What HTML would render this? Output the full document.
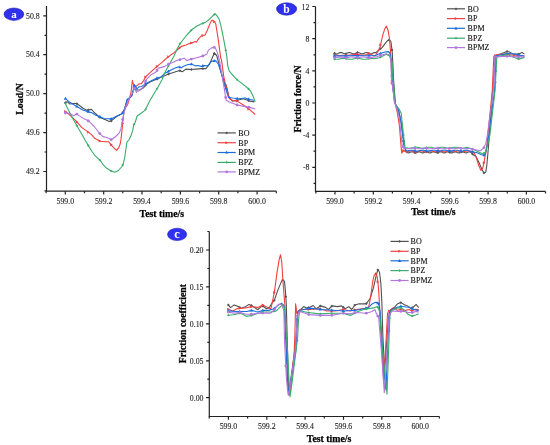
<!DOCTYPE html>
<html><head><meta charset="utf-8"><title>Figure</title><style>html,body{margin:0;padding:0;background:#fff;width:550px;height:445px;overflow:hidden}svg{display:block}</style></head><body>
<svg width="550" height="445" viewBox="0 0 550 445">
<style>text{font-family:'Liberation Serif','Times New Roman',serif;fill:#222} .tl{font-size:7.8px;fill:#1a1a1a;stroke:#1a1a1a;stroke-width:0.1px} .lg{font-size:8px;fill:#111;stroke:#111;stroke-width:0.12px} .at{font-size:9.8px;font-weight:bold;fill:#000;stroke:#000;stroke-width:0.25px} .bd{font-weight:bold;fill:#fff}</style>
<rect width="550" height="445" fill="#fff"/>
<g id="pa">
<path d="M46.5 6.1V191.2H276.3" fill="none" stroke="#222" stroke-width="1.2"/>
<text x="65.3" y="203.9" text-anchor="middle" class="tl">599.0</text>
<text x="103.7" y="203.9" text-anchor="middle" class="tl">599.2</text>
<text x="142" y="203.9" text-anchor="middle" class="tl">599.4</text>
<text x="180.4" y="203.9" text-anchor="middle" class="tl">599.6</text>
<text x="218.7" y="203.9" text-anchor="middle" class="tl">599.8</text>
<text x="257.1" y="203.9" text-anchor="middle" class="tl">600.0</text>
<text x="39.7" y="174.1" text-anchor="end" class="tl">49.2</text>
<text x="39.7" y="135.2" text-anchor="end" class="tl">49.6</text>
<text x="39.7" y="96.3" text-anchor="end" class="tl">50.0</text>
<text x="39.7" y="57.4" text-anchor="end" class="tl">50.4</text>
<text x="39.7" y="18.5" text-anchor="end" class="tl">50.8</text>
<path d="M46.1 191.2v2.0M65.3 191.2v3.2M84.5 191.2v2.0M103.7 191.2v3.2M122.8 191.2v2.0M142 191.2v3.2M161.2 191.2v2.0M180.4 191.2v3.2M199.6 191.2v2.0M218.7 191.2v3.2M237.9 191.2v2.0M257.1 191.2v3.2M276.3 191.2v2.0M46.5 190.9h-2.0M46.5 171.5h-3.2M46.5 152h-2.0M46.5 132.6h-3.2M46.5 113.1h-2.0M46.5 93.7h-3.2M46.5 74.2h-2.0M46.5 54.7h-3.2M46.5 35.3h-2.0M46.5 15.8h-3.2" stroke="#222" stroke-width="1.2" fill="none"/>
<text x="161.8" y="216.8" text-anchor="middle" class="at">Test time/s</text>
<text transform="translate(22.7 98.9) rotate(-90)" text-anchor="middle" class="at">Load/N</text>
<ellipse cx="13.9" cy="14.2" rx="9.9" ry="6.2" fill="#3030f0" stroke="#2222b8" stroke-width="0.6"/>
<text x="13.9" y="17.9" text-anchor="middle" class="bd" font-size="11">a</text>
<path d="M217.5 132.9H235.8" stroke="#515151" stroke-width="1.2"/>
<path d="M226.7 131.5l1.4 1.4l-1.4 1.4l-1.4 -1.4z" fill="#515151"/>
<text x="238.3" y="135.7" class="lg">BO</text>
<path d="M217.5 142.7H235.8" stroke="#F14040" stroke-width="1.2"/>
<path d="M228.2 142.7l-2.8 -1.5v3z" fill="#F14040"/>
<text x="238.3" y="145.5" class="lg">BP</text>
<path d="M217.5 152.5H235.8" stroke="#1A6FDF" stroke-width="1.2"/>
<path d="M226.7 150.7l1.7 2.9h-3.4z" fill="#1A6FDF"/>
<text x="238.3" y="155.3" class="lg">BPM</text>
<path d="M217.5 162.4H235.8" stroke="#37AD6B" stroke-width="1.2"/>
<path d="M226.7 161.1l1.3 1.3l-1.3 1.3l-1.3 -1.3z" fill="#37AD6B"/>
<text x="238.3" y="165.2" class="lg">BPZ</text>
<path d="M217.5 171.9H235.8" stroke="#B177DE" stroke-width="1.2"/>
<circle cx="226.7" cy="171.9" r="1.4" fill="#B177DE"/>
<text x="238.3" y="174.7" class="lg">BPMZ</text>
<path d="M65.4 102.6 67.2 101.7 69.9 104 73.5 103.5 76.6 103.5 79.8 105.8 83.4 108.5 87 110.3 91.5 109.4 94.2 112.5 99.5 117.2 104.9 119.4 109.4 121.6 111.6 120.7 116.6 116.5 121.1 114.2 122.9 112.8 124.7 108.6 127.1 100 130.2 97.5 131.8 95.8 133.4 90 134.5 88 135.7 90.1 139.7 89.7 143.6 87.7 146.2 84.3 150 82 155.3 79.7 162.3 76.7 168.6 74.1 174.1 72.3 179.5 70.5 182.3 71.8 185.9 69.1 191.4 69.5 195.9 69.1 201.4 68.6 205.9 68.6 209.5 64.1 212.3 57.7 214.4 53.1 216.7 55.5 219.1 64.2 221.4 73.6 224.6 83 226.9 87.7 228.5 95.6 230.1 98.7 232.4 101.1 237.2 100.3 243.4 98.7 249.7 101.1 254.5 101.9" fill="none" stroke="#515151" stroke-width="1.1" stroke-linejoin="round"/><path d="M65.4 101.2l1.4 1.4l-1.4 1.4l-1.4 -1.4z" fill="#515151"/><path d="M76.9 102.3l1.4 1.4l-1.4 1.4l-1.4 -1.4z" fill="#515151"/><path d="M88.3 108.6l1.4 1.4l-1.4 1.4l-1.4 -1.4z" fill="#515151"/><path d="M99.8 115.9l1.4 1.4l-1.4 1.4l-1.4 -1.4z" fill="#515151"/><path d="M111.2 119.5l1.4 1.4l-1.4 1.4l-1.4 -1.4z" fill="#515151"/><path d="M122.7 111.6l1.4 1.4l-1.4 1.4l-1.4 -1.4z" fill="#515151"/><path d="M134.1 87.3l1.4 1.4l-1.4 1.4l-1.4 -1.4z" fill="#515151"/><path d="M145.6 83.7l1.4 1.4l-1.4 1.4l-1.4 -1.4z" fill="#515151"/><path d="M157 77.6l1.4 1.4l-1.4 1.4l-1.4 -1.4z" fill="#515151"/><path d="M168.4 72.8l1.4 1.4l-1.4 1.4l-1.4 -1.4z" fill="#515151"/><path d="M179.9 69.3l1.4 1.4l-1.4 1.4l-1.4 -1.4z" fill="#515151"/><path d="M191.3 68.1l1.4 1.4l-1.4 1.4l-1.4 -1.4z" fill="#515151"/><path d="M202.8 67.2l1.4 1.4l-1.4 1.4l-1.4 -1.4z" fill="#515151"/><path d="M214.2 52l1.4 1.4l-1.4 1.4l-1.4 -1.4z" fill="#515151"/><path d="M225.7 83.8l1.4 1.4l-1.4 1.4l-1.4 -1.4z" fill="#515151"/><path d="M237.1 98.9l1.4 1.4l-1.4 1.4l-1.4 -1.4z" fill="#515151"/><path d="M248.6 99.3l1.4 1.4l-1.4 1.4l-1.4 -1.4z" fill="#515151"/>
<path d="M65.4 111.6 69 114.3 76.2 121.1 81.6 127.4 87.9 131.9 91.5 134.6 95 138.6 100.4 141.3 104.9 141.7 108.5 141.7 111.6 145.3 113.9 148 116.6 150.3 118.8 147.6 120.2 144 121.1 138.6 122.5 125 123.8 112.2 125.6 107.5 127.5 105 129.4 98.7 131 92.4 132.4 80.3 133.4 84.6 134.2 87.7 135.3 86.9 136.9 85.8 138.9 83.8 141.2 83.8 143.6 80.6 145.7 76.7 151.2 71.7 157.3 66.1 162.3 62.1 165 59.5 169.5 55.9 174.1 52.7 177.7 49.5 181.4 46.4 185.9 45 189.5 43.6 192.3 42.7 195 41.4 196.4 42.3 198.6 38.6 201.4 35.9 205 35 207.2 30.5 209.5 24.9 211.2 20.9 212.9 20.4 214.6 22 215.7 23.7 216.8 30.5 217.9 37.2 219 45.1 220.7 58 221.4 59.4 223.8 76.7 226.2 87.7 227.7 92.5 229.3 98.7 232.4 100.3 237.2 101.1 243.4 105 249.7 109.7 255.2 114.5" fill="none" stroke="#F14040" stroke-width="1.1" stroke-linejoin="round"/><path d="M67 111.6l-2.8 -1.5v3z" fill="#F14040"/><path d="M78.5 121.9l-2.8 -1.5v3z" fill="#F14040"/><path d="M89.9 132.2l-2.8 -1.5v3z" fill="#F14040"/><path d="M101.4 141l-2.8 -1.5v3z" fill="#F14040"/><path d="M112.8 144.8l-2.8 -1.5v3z" fill="#F14040"/><path d="M124.3 123.5l-2.8 -1.5v3z" fill="#F14040"/><path d="M135.7 87.3l-2.8 -1.5v3z" fill="#F14040"/><path d="M147.2 77l-2.8 -1.5v3z" fill="#F14040"/><path d="M158.6 66.4l-2.8 -1.5v3z" fill="#F14040"/><path d="M170 56.7l-2.8 -1.5v3z" fill="#F14040"/><path d="M181.5 47.7l-2.8 -1.5v3z" fill="#F14040"/><path d="M192.9 43l-2.8 -1.5v3z" fill="#F14040"/><path d="M204.4 35.6l-2.8 -1.5v3z" fill="#F14040"/><path d="M215.8 21.7l-2.8 -1.5v3z" fill="#F14040"/><path d="M227.3 85.4l-2.8 -1.5v3z" fill="#F14040"/><path d="M238.7 101.1l-2.8 -1.5v3z" fill="#F14040"/><path d="M250.2 108.9l-2.8 -1.5v3z" fill="#F14040"/>
<path d="M65.4 98.6 69 101.7 77.1 106.7 83.4 110.3 87.9 111.6 92.4 113 95 114.9 99.9 116.7 104 118.5 111.2 118.9 116.6 116.2 121.1 114 122.9 112.6 124.7 108.6 127.1 99.5 130.2 97.2 131.8 95.6 133.4 89.3 134.5 84.6 135.7 86.5 136.9 88.9 138.9 86.9 141.2 86.5 143.6 85.4 146.2 83.3 150 81.5 155.3 78.7 161.3 76.7 165 73.2 169.1 70.9 174.1 68.6 178.6 66.8 181.4 67.7 184.1 65.9 188.2 64.5 192.3 64.1 195 65.9 197.7 65.5 201.4 66.4 204.1 65.5 207.7 65.9 210.5 62.3 212 61 215.9 60.7 218.3 64.2 221.4 73.6 224.6 84.6 226.9 92.5 228.5 97.2 232.4 98 238.7 98.7 245 98 249.7 99.5 254.5 100.3" fill="none" stroke="#1A6FDF" stroke-width="1.1" stroke-linejoin="round"/><path d="M65.4 96.8l1.7 2.9h-3.4z" fill="#1A6FDF"/><path d="M76.9 104.7l1.7 2.9h-3.4z" fill="#1A6FDF"/><path d="M88.3 109.9l1.7 2.9h-3.4z" fill="#1A6FDF"/><path d="M99.8 114.8l1.7 2.9h-3.4z" fill="#1A6FDF"/><path d="M111.2 117.1l1.7 2.9h-3.4z" fill="#1A6FDF"/><path d="M122.7 111l1.7 2.9h-3.4z" fill="#1A6FDF"/><path d="M134.1 84.5l1.7 2.9h-3.4z" fill="#1A6FDF"/><path d="M145.6 82l1.7 2.9h-3.4z" fill="#1A6FDF"/><path d="M157 76.3l1.7 2.9h-3.4z" fill="#1A6FDF"/><path d="M168.4 69.5l1.7 2.9h-3.4z" fill="#1A6FDF"/><path d="M179.9 65.4l1.7 2.9h-3.4z" fill="#1A6FDF"/><path d="M191.3 62.4l1.7 2.9h-3.4z" fill="#1A6FDF"/><path d="M202.8 64.1l1.7 2.9h-3.4z" fill="#1A6FDF"/><path d="M214.2 59l1.7 2.9h-3.4z" fill="#1A6FDF"/><path d="M225.7 86.6l1.7 2.9h-3.4z" fill="#1A6FDF"/><path d="M237.1 96.7l1.7 2.9h-3.4z" fill="#1A6FDF"/><path d="M248.6 97.3l1.7 2.9h-3.4z" fill="#1A6FDF"/>
<path d="M65.4 103.5 67.2 107.6 70.8 114.8 75.3 122.9 78.9 129.2 81.6 133.7 85 140 88.8 146.4 92 151.5 95 155.7 100.4 160.6 103.1 164.7 106.7 168.3 111.2 171 114.8 172.3 118.4 170.5 122 166.5 123.3 163.8 124.7 157.5 126 148.5 126.9 142.2 129.2 139.5 131 135.6 132.8 130.2 133.7 124.8 135 123 137.1 116 140 114 145 110.4 150.2 100 157.3 88.3 162.3 79.2 165 72.3 169.5 64.1 174.1 55.9 176.8 49.5 180 43.6 183.2 39.5 186.8 35 192 29.5 197 26 201 24 205 22.6 209.5 19.2 212.3 16.4 215.1 13.6 217.4 16.4 219 18.7 220.7 24.9 222.4 32.7 224.1 41.7 225.8 50.7 226.9 57.1 227.7 65.7 229.3 71.2 234 76.7 237.2 79.9 243.4 84.6 248.2 88.5 250.5 90.9 252.9 95.6 255.2 101.9" fill="none" stroke="#37AD6B" stroke-width="1.1" stroke-linejoin="round"/><path d="M65.4 102.2l1.3 1.3l-1.3 1.3l-1.3 -1.3z" fill="#37AD6B"/><path d="M76.9 124.3l1.3 1.3l-1.3 1.3l-1.3 -1.3z" fill="#37AD6B"/><path d="M88.3 144.3l1.3 1.3l-1.3 1.3l-1.3 -1.3z" fill="#37AD6B"/><path d="M99.8 158.7l1.3 1.3l-1.3 1.3l-1.3 -1.3z" fill="#37AD6B"/><path d="M111.2 169.7l1.3 1.3l-1.3 1.3l-1.3 -1.3z" fill="#37AD6B"/><path d="M122.7 163.8l1.3 1.3l-1.3 1.3l-1.3 -1.3z" fill="#37AD6B"/><path d="M134.1 122.9l1.3 1.3l-1.3 1.3l-1.3 -1.3z" fill="#37AD6B"/><path d="M145.6 108l1.3 1.3l-1.3 1.3l-1.3 -1.3z" fill="#37AD6B"/><path d="M157 87.5l1.3 1.3l-1.3 1.3l-1.3 -1.3z" fill="#37AD6B"/><path d="M168.4 64.7l1.3 1.3l-1.3 1.3l-1.3 -1.3z" fill="#37AD6B"/><path d="M179.9 42.5l1.3 1.3l-1.3 1.3l-1.3 -1.3z" fill="#37AD6B"/><path d="M191.3 28.9l1.3 1.3l-1.3 1.3l-1.3 -1.3z" fill="#37AD6B"/><path d="M202.8 22.1l1.3 1.3l-1.3 1.3l-1.3 -1.3z" fill="#37AD6B"/><path d="M214.2 13.2l1.3 1.3l-1.3 1.3l-1.3 -1.3z" fill="#37AD6B"/><path d="M225.7 48.9l1.3 1.3l-1.3 1.3l-1.3 -1.3z" fill="#37AD6B"/><path d="M237.1 78.5l1.3 1.3l-1.3 1.3l-1.3 -1.3z" fill="#37AD6B"/><path d="M248.6 87.6l1.3 1.3l-1.3 1.3l-1.3 -1.3z" fill="#37AD6B"/>
<path d="M65.4 113 69.9 113.4 73.5 115.7 76.6 113.9 79.8 116.1 83.4 118.4 87.9 120.6 90.6 122.9 94.2 126.5 95 127.5 99.9 133.8 102.2 135.9 104 136.9 105.8 137.2 107.6 137.8 111.2 139.7 115.7 136.5 119.3 132.9 121.1 128.4 122.4 120.7 123.8 114 125.1 108.6 126.5 105 128.5 100 131 95 133 92.4 134.2 87.7 135.3 90.1 136.5 92.4 138.9 90.9 141.2 89.3 143.6 86.2 145 82.2 146.2 79.7 151.2 74.7 156.3 71.7 158.3 68.1 162.3 67.1 165 66.4 168.6 64.1 173.2 62.3 176.8 60.5 180.5 59.5 184.1 58.2 186.8 60.5 191.4 59.1 196.8 57.7 203.2 55.9 206.8 54.1 208.4 50.1 211.7 47.9 214.6 47.3 216.2 49.6 217.9 54.1 219.9 62.6 223 81.4 225.4 95.6 226.2 100.3 229.3 101.9 237.2 105 245 106.6 249.7 107.4 255.2 109" fill="none" stroke="#B177DE" stroke-width="1.1" stroke-linejoin="round"/><circle cx="65.4" cy="113" r="1.4" fill="#B177DE"/><circle cx="76.9" cy="114.1" r="1.4" fill="#B177DE"/><circle cx="88.3" cy="120.9" r="1.4" fill="#B177DE"/><circle cx="99.8" cy="133.6" r="1.4" fill="#B177DE"/><circle cx="111.2" cy="139.7" r="1.4" fill="#B177DE"/><circle cx="122.7" cy="119.5" r="1.4" fill="#B177DE"/><circle cx="134.1" cy="88.1" r="1.4" fill="#B177DE"/><circle cx="145.6" cy="81.1" r="1.4" fill="#B177DE"/><circle cx="157" cy="70.4" r="1.4" fill="#B177DE"/><circle cx="168.4" cy="64.2" r="1.4" fill="#B177DE"/><circle cx="179.9" cy="59.7" r="1.4" fill="#B177DE"/><circle cx="191.3" cy="59.1" r="1.4" fill="#B177DE"/><circle cx="202.8" cy="56" r="1.4" fill="#B177DE"/><circle cx="214.2" cy="47.4" r="1.4" fill="#B177DE"/><circle cx="225.7" cy="97.4" r="1.4" fill="#B177DE"/><circle cx="237.1" cy="105" r="1.4" fill="#B177DE"/><circle cx="248.6" cy="107.2" r="1.4" fill="#B177DE"/>
</g>
<g id="pb">
<path d="M315.5 6.5V191.4H545.5" fill="none" stroke="#222" stroke-width="1.2"/>
<text x="335" y="203.9" text-anchor="middle" class="tl">599.0</text>
<text x="373.3" y="203.9" text-anchor="middle" class="tl">599.2</text>
<text x="411.6" y="203.9" text-anchor="middle" class="tl">599.4</text>
<text x="449.8" y="203.9" text-anchor="middle" class="tl">599.6</text>
<text x="488.1" y="203.9" text-anchor="middle" class="tl">599.8</text>
<text x="526.4" y="203.9" text-anchor="middle" class="tl">600.0</text>
<text x="309.4" y="170.4" text-anchor="end" class="tl">-8</text>
<text x="309.4" y="138.3" text-anchor="end" class="tl">-4</text>
<text x="309.4" y="106.1" text-anchor="end" class="tl">0</text>
<text x="309.4" y="73.9" text-anchor="end" class="tl">4</text>
<text x="309.4" y="41.8" text-anchor="end" class="tl">8</text>
<text x="309.4" y="9.6" text-anchor="end" class="tl">12</text>
<path d="M315.9 191.4v2.0M335 191.4v3.2M354.1 191.4v2.0M373.3 191.4v3.2M392.4 191.4v2.0M411.6 191.4v3.2M430.7 191.4v2.0M449.8 191.4v3.2M469 191.4v2.0M488.1 191.4v3.2M507.3 191.4v2.0M526.4 191.4v3.2M545.5 191.4v2.0M315.5 183.4h-2.0M315.5 167.3h-3.2M315.5 151.2h-2.0M315.5 135.2h-3.2M315.5 119.1h-2.0M315.5 103h-3.2M315.5 86.9h-2.0M315.5 70.8h-3.2M315.5 54.8h-2.0M315.5 38.7h-3.2M315.5 22.6h-2.0M315.5 6.5h-3.2" stroke="#222" stroke-width="1.2" fill="none"/>
<text x="433.4" y="214.5" text-anchor="middle" class="at">Test time/s</text>
<text transform="translate(301 98.9) rotate(-90)" text-anchor="middle" class="at">Friction force/N</text>
<ellipse cx="286.6" cy="9" rx="10.1" ry="6.2" fill="#3030f0" stroke="#2222b8" stroke-width="0.6"/>
<text x="286.6" y="12.7" text-anchor="middle" class="bd" font-size="11.6">b</text>
<path d="M447 8.8H465" stroke="#515151" stroke-width="1.2"/>
<path d="M456 7.4l1.4 1.4l-1.4 1.4l-1.4 -1.4z" fill="#515151"/>
<text x="467.6" y="11.6" class="lg">BO</text>
<path d="M447 18.6H465" stroke="#F14040" stroke-width="1.2"/>
<path d="M457.6 18.6l-2.8 -1.5v3z" fill="#F14040"/>
<text x="467.6" y="21.4" class="lg">BP</text>
<path d="M447 28.3H465" stroke="#1A6FDF" stroke-width="1.2"/>
<path d="M456 26.5l1.7 2.9h-3.4z" fill="#1A6FDF"/>
<text x="467.6" y="31.1" class="lg">BPM</text>
<path d="M447 38.2H465" stroke="#37AD6B" stroke-width="1.2"/>
<path d="M456 36.9l1.3 1.3l-1.3 1.3l-1.3 -1.3z" fill="#37AD6B"/>
<text x="467.6" y="41" class="lg">BPZ</text>
<path d="M447 47.6H465" stroke="#B177DE" stroke-width="1.2"/>
<circle cx="456" cy="47.6" r="1.4" fill="#B177DE"/>
<text x="467.6" y="50.4" class="lg">BPMZ</text>
<path d="M334.5 53.2 336.3 54 338.1 53.6 339.9 52.6 341.7 52.5 343.5 53.5 345.3 54 347.1 53.3 348.9 52.5 350.7 52.8 352.5 53.7 354.3 53.9 356.1 53 357.9 52.4 359.7 53 361.5 53.9 363.3 53.7 365.1 52.7 366.9 52.5 368.7 53.3 370.5 54 372.3 53.5 374.1 52.5 375.9 52.6 380 49 382.1 47.6 386.2 42.2 388.9 39.3 390.9 41.5 392.2 51.6 392.9 64.4 393.6 80 394.5 92 395.5 104 398.4 109.4 401.2 122.8 404.1 145.7 405.6 151 407 152.6 408.8 152.9 410.6 152 412.4 151.7 414.2 152.6 416 152.9 417.8 152 419.6 151.7 421.4 152.6 423.2 152.9 425 152 426.8 151.7 428.6 152.6 430.4 152.9 432.2 152 434 151.7 435.8 152.6 437.6 152.9 439.4 152 441.2 151.7 443 152.6 444.8 152.9 446.6 152 448.4 151.7 450.2 152.6 452 152.9 453.8 152 455.6 151.7 457.4 152.6 459.2 152.9 461 152 462.8 151.7 464.6 152.6 466.4 152.9 468.2 152 470 151.7 473.2 154.7 476.2 156.7 479.3 163.3 482.3 170.4 484.3 173.2 485.8 171.9 486.8 165.3 487.9 153.2 488.9 141.1 490.5 120 492 100 493.5 80 495 60 496.2 55.2 501.9 53.5 507.5 51.2 513.1 54.1 518.7 54.1 522.1 52.4 524.4 54.1" fill="none" stroke="#515151" stroke-width="1.1" stroke-linejoin="round"/><path d="M334.5 51.8l1.4 1.4l-1.4 1.4l-1.4 -1.4z" fill="#515151"/><path d="M346 52.3l1.4 1.4l-1.4 1.4l-1.4 -1.4z" fill="#515151"/><path d="M357.5 51.1l1.4 1.4l-1.4 1.4l-1.4 -1.4z" fill="#515151"/><path d="M369 52l1.4 1.4l-1.4 1.4l-1.4 -1.4z" fill="#515151"/><path d="M380.5 47.3l1.4 1.4l-1.4 1.4l-1.4 -1.4z" fill="#515151"/><path d="M392 48.6l1.4 1.4l-1.4 1.4l-1.4 -1.4z" fill="#515151"/><path d="M403.5 139.6l1.4 1.4l-1.4 1.4l-1.4 -1.4z" fill="#515151"/><path d="M415 151.4l1.4 1.4l-1.4 1.4l-1.4 -1.4z" fill="#515151"/><path d="M426.5 150.3l1.4 1.4l-1.4 1.4l-1.4 -1.4z" fill="#515151"/><path d="M438 151.3l1.4 1.4l-1.4 1.4l-1.4 -1.4z" fill="#515151"/><path d="M449.5 150.9l1.4 1.4l-1.4 1.4l-1.4 -1.4z" fill="#515151"/><path d="M461 150.6l1.4 1.4l-1.4 1.4l-1.4 -1.4z" fill="#515151"/><path d="M472.5 152.6l1.4 1.4l-1.4 1.4l-1.4 -1.4z" fill="#515151"/><path d="M484 171.4l1.4 1.4l-1.4 1.4l-1.4 -1.4z" fill="#515151"/><path d="M495.5 56.6l1.4 1.4l-1.4 1.4l-1.4 -1.4z" fill="#515151"/><path d="M507 50l1.4 1.4l-1.4 1.4l-1.4 -1.4z" fill="#515151"/><path d="M518.5 52.7l1.4 1.4l-1.4 1.4l-1.4 -1.4z" fill="#515151"/>
<path d="M334.5 54.4 339 55.8 343 55.3 348.2 55.3 352 54.8 357.3 54.4 362 55.3 366.4 54.9 369 53.5 373.6 55.8 375.4 55.8 378.2 50.9 380.1 46.9 382.8 34.8 384.8 28.8 386.4 26.1 388.2 30.8 389.5 38.9 390.5 51 391.3 64.4 391.8 80 393 88.4 394.6 101.8 395.5 104.6 397.4 113.2 399.3 124.7 401.2 147.6 401.8 153.3 403.2 150.5 406 151.9 408 151.6 410 150.9 412 150.8 414 151.5 416 151.9 418 151.4 420 150.8 422 150.9 424 151.7 426 151.8 428 151.2 430 150.7 432 151.1 434 151.8 436 151.8 438 151 440 150.7 442 151.3 444 151.9 446 151.6 448 150.9 450 150.8 452 151.5 454 151.9 456 151.4 458 150.8 460 150.9 462 151.7 464 151.8 466 151.2 468 150.7 470 151.1 474.2 152.5 476.2 157.5 478.6 165 480.8 170.3 482.5 169 484.2 162 485 156 485.8 153.2 486.9 145.1 487.9 135 492.3 90 493.8 56.3 497.4 54.6 507.5 54.1 515.4 55.7 524.4 55.7" fill="none" stroke="#F14040" stroke-width="1.1" stroke-linejoin="round"/><path d="M336.1 54.4l-2.8 -1.5v3z" fill="#F14040"/><path d="M347.6 55.3l-2.8 -1.5v3z" fill="#F14040"/><path d="M359.1 54.4l-2.8 -1.5v3z" fill="#F14040"/><path d="M370.6 53.5l-2.8 -1.5v3z" fill="#F14040"/><path d="M382.1 45.1l-2.8 -1.5v3z" fill="#F14040"/><path d="M393.6 81.4l-2.8 -1.5v3z" fill="#F14040"/><path d="M405.1 150.6l-2.8 -1.5v3z" fill="#F14040"/><path d="M416.6 151.7l-2.8 -1.5v3z" fill="#F14040"/><path d="M428.1 151.7l-2.8 -1.5v3z" fill="#F14040"/><path d="M439.6 151l-2.8 -1.5v3z" fill="#F14040"/><path d="M451.1 150.8l-2.8 -1.5v3z" fill="#F14040"/><path d="M462.6 151.3l-2.8 -1.5v3z" fill="#F14040"/><path d="M474.1 151.9l-2.8 -1.5v3z" fill="#F14040"/><path d="M485.6 162.8l-2.8 -1.5v3z" fill="#F14040"/><path d="M497.1 55.5l-2.8 -1.5v3z" fill="#F14040"/><path d="M508.6 54.1l-2.8 -1.5v3z" fill="#F14040"/><path d="M520.1 55.7l-2.8 -1.5v3z" fill="#F14040"/>
<path d="M334.5 55.9 345 55.9 355 55.5 365 55.7 375.5 55.5 378.1 54.3 384.8 52 388.9 51.6 390.2 54.3 391.5 63.1 392.2 80 393 88.4 394.6 101.8 395.5 104.6 398.4 109.4 401.2 122.8 404.1 145.7 405.6 149.5 407 151.1 409 150.6 411 150.2 413 150.2 415 150.7 417 151.1 419 150.9 421 150.3 423 150.1 425 150.5 427 151 429 151.1 431 150.6 433 150.2 435 150.2 437 150.7 439 151.1 441 150.9 443 150.3 445 150.1 447 150.5 449 151 451 151.1 453 150.6 455 150.2 457 150.2 459 150.7 461 151.1 463 150.9 465 150.3 467 150.1 470.2 151.2 477.2 152.7 481.3 154.7 484.3 155.2 485.8 152.2 487.2 145.1 488.9 135 494.6 90 496.2 55.7 507.5 53.5 515 54 524.4 56.3" fill="none" stroke="#1A6FDF" stroke-width="1.1" stroke-linejoin="round"/><path d="M334.5 54.1l1.7 2.9h-3.4z" fill="#1A6FDF"/><path d="M346 54.1l1.7 2.9h-3.4z" fill="#1A6FDF"/><path d="M357.5 53.8l1.7 2.9h-3.4z" fill="#1A6FDF"/><path d="M369 53.8l1.7 2.9h-3.4z" fill="#1A6FDF"/><path d="M380.5 51.7l1.7 2.9h-3.4z" fill="#1A6FDF"/><path d="M392 73.4l1.7 2.9h-3.4z" fill="#1A6FDF"/><path d="M403.5 139.2l1.7 2.9h-3.4z" fill="#1A6FDF"/><path d="M415 148.9l1.7 2.9h-3.4z" fill="#1A6FDF"/><path d="M426.5 149l1.7 2.9h-3.4z" fill="#1A6FDF"/><path d="M438 149.1l1.7 2.9h-3.4z" fill="#1A6FDF"/><path d="M449.5 149.2l1.7 2.9h-3.4z" fill="#1A6FDF"/><path d="M461 149.3l1.7 2.9h-3.4z" fill="#1A6FDF"/><path d="M472.5 149.9l1.7 2.9h-3.4z" fill="#1A6FDF"/><path d="M484 153.3l1.7 2.9h-3.4z" fill="#1A6FDF"/><path d="M495.5 68.9l1.7 2.9h-3.4z" fill="#1A6FDF"/><path d="M507 51.8l1.7 2.9h-3.4z" fill="#1A6FDF"/><path d="M518.5 53.1l1.7 2.9h-3.4z" fill="#1A6FDF"/>
<path d="M334.5 59.1 336.5 59.3 338.5 59.1 340.5 58.7 342.5 58.3 344.5 58.4 346.5 58.7 348.5 59.1 350.5 59.3 352.5 59.1 354.5 58.7 356.5 58.3 358.5 58.4 360.5 58.7 362.5 59.1 364.5 59.3 366.5 59.1 368.5 58.7 370.5 58.3 372.5 58.4 374.5 58.7 379.4 57.7 386.2 54.3 390.2 56.4 392.2 64.4 393.2 80 394 88.4 394.8 101.8 395.8 105 399.3 109.4 401.2 113.2 403.2 132.3 405.1 148.6 407 147.8 409 148.2 411 148.1 413 147.7 415 147.3 417 147.2 419 147.6 421 148 423 148.2 425 147.9 427 147.5 429 147.2 431 147.3 433 147.8 435 148.2 437 148.1 439 147.7 441 147.3 443 147.2 445 147.6 447 148 449 148.2 451 147.9 453 147.5 455 147.2 457 147.3 459 147.8 461 148.2 463 148.1 465 147.7 467 147.3 475.2 150.2 482.3 153.7 485.3 152.7 487.5 145 489.9 135 495.1 90 496.8 56.9 507.5 54.6 514.2 57.4 518.7 59.1 524.4 57.4" fill="none" stroke="#37AD6B" stroke-width="1.1" stroke-linejoin="round"/><path d="M334.5 57.8l1.3 1.3l-1.3 1.3l-1.3 -1.3z" fill="#37AD6B"/><path d="M346 57.3l1.3 1.3l-1.3 1.3l-1.3 -1.3z" fill="#37AD6B"/><path d="M357.5 57.1l1.3 1.3l-1.3 1.3l-1.3 -1.3z" fill="#37AD6B"/><path d="M369 57.3l1.3 1.3l-1.3 1.3l-1.3 -1.3z" fill="#37AD6B"/><path d="M380.5 55.8l1.3 1.3l-1.3 1.3l-1.3 -1.3z" fill="#37AD6B"/><path d="M392 62.3l1.3 1.3l-1.3 1.3l-1.3 -1.3z" fill="#37AD6B"/><path d="M403.5 133.6l1.3 1.3l-1.3 1.3l-1.3 -1.3z" fill="#37AD6B"/><path d="M415 146l1.3 1.3l-1.3 1.3l-1.3 -1.3z" fill="#37AD6B"/><path d="M426.5 146.3l1.3 1.3l-1.3 1.3l-1.3 -1.3z" fill="#37AD6B"/><path d="M438 146.6l1.3 1.3l-1.3 1.3l-1.3 -1.3z" fill="#37AD6B"/><path d="M449.5 146.8l1.3 1.3l-1.3 1.3l-1.3 -1.3z" fill="#37AD6B"/><path d="M461 146.9l1.3 1.3l-1.3 1.3l-1.3 -1.3z" fill="#37AD6B"/><path d="M472.5 147.9l1.3 1.3l-1.3 1.3l-1.3 -1.3z" fill="#37AD6B"/><path d="M484 151.8l1.3 1.3l-1.3 1.3l-1.3 -1.3z" fill="#37AD6B"/><path d="M495.5 80.9l1.3 1.3l-1.3 1.3l-1.3 -1.3z" fill="#37AD6B"/><path d="M507 53.4l1.3 1.3l-1.3 1.3l-1.3 -1.3z" fill="#37AD6B"/><path d="M518.5 57.7l1.3 1.3l-1.3 1.3l-1.3 -1.3z" fill="#37AD6B"/>
<path d="M334.5 57.7 336.5 57.5 338.5 57.1 340.5 56.9 342.5 57.1 344.5 57.5 346.5 57.7 348.5 57.4 350.5 57 352.5 56.9 354.5 57.2 356.5 57.6 358.5 57.7 360.5 57.3 362.5 57 364.5 57 366.5 57.4 368.5 57.7 370.5 57.6 372.5 57.2 374.5 56.9 376.5 57 378.1 56.3 386.2 53.7 389.5 55 390.9 61.8 391.5 80 392.8 88.4 394.4 101.8 396.5 107.5 399.3 118 402.2 145.7 404.5 148.5 406 148.7 408 148.8 410 148.4 412 148 414 148.1 416 148.5 418 148.8 420 148.7 422 148.3 424 148 426 148.2 428 148.6 430 148.8 432 148.6 434 148.2 436 148 438 148.3 440 148.7 442 148.8 444 148.5 446 148.1 448 148 450 148.4 452 148.7 454 148.8 456 148.4 458 148 460 148.1 462 148.5 464 148.8 466 148.7 468 148.3 472.7 149.2 480.3 150.7 483.8 148.1 485.8 143.1 487.4 135 493.4 90 495.1 56.9 507.5 56.3 518.7 56.9 524.4 56.9" fill="none" stroke="#B177DE" stroke-width="1.1" stroke-linejoin="round"/><circle cx="334.5" cy="57.7" r="1.4" fill="#B177DE"/><circle cx="346" cy="57.7" r="1.4" fill="#B177DE"/><circle cx="357.5" cy="57.6" r="1.4" fill="#B177DE"/><circle cx="369" cy="57.7" r="1.4" fill="#B177DE"/><circle cx="380.5" cy="55.5" r="1.4" fill="#B177DE"/><circle cx="392" cy="83.2" r="1.4" fill="#B177DE"/><circle cx="403.5" cy="147.3" r="1.4" fill="#B177DE"/><circle cx="415" cy="148.3" r="1.4" fill="#B177DE"/><circle cx="426.5" cy="148.3" r="1.4" fill="#B177DE"/><circle cx="438" cy="148.3" r="1.4" fill="#B177DE"/><circle cx="449.5" cy="148.3" r="1.4" fill="#B177DE"/><circle cx="461" cy="148.3" r="1.4" fill="#B177DE"/><circle cx="472.5" cy="149.2" r="1.4" fill="#B177DE"/><circle cx="484" cy="147.6" r="1.4" fill="#B177DE"/><circle cx="495.5" cy="56.9" r="1.4" fill="#B177DE"/><circle cx="507" cy="56.3" r="1.4" fill="#B177DE"/><circle cx="518.5" cy="56.9" r="1.4" fill="#B177DE"/>
</g>
<g id="pc">
<path d="M209.3 231.6V416.5H439.4" fill="none" stroke="#222" stroke-width="1.2"/>
<text x="228.4" y="429" text-anchor="middle" class="tl">599.0</text>
<text x="266.8" y="429" text-anchor="middle" class="tl">599.2</text>
<text x="305.1" y="429" text-anchor="middle" class="tl">599.4</text>
<text x="343.5" y="429" text-anchor="middle" class="tl">599.6</text>
<text x="381.8" y="429" text-anchor="middle" class="tl">599.8</text>
<text x="420.2" y="429" text-anchor="middle" class="tl">600.0</text>
<text x="203.5" y="400.9" text-anchor="end" class="tl">0.00</text>
<text x="203.5" y="364" text-anchor="end" class="tl">0.05</text>
<text x="203.5" y="327" text-anchor="end" class="tl">0.10</text>
<text x="203.5" y="290.1" text-anchor="end" class="tl">0.15</text>
<text x="203.5" y="253.2" text-anchor="end" class="tl">0.20</text>
<path d="M209.2 416.5v2.0M228.4 416.5v3.2M247.6 416.5v2.0M266.8 416.5v3.2M285.9 416.5v2.0M305.1 416.5v3.2M324.3 416.5v2.0M343.5 416.5v3.2M362.7 416.5v2.0M381.8 416.5v3.2M401 416.5v2.0M420.2 416.5v3.2M439.4 416.5v2.0M209.3 397.7h-3.2M209.3 379.2h-2.0M209.3 360.8h-3.2M209.3 342.3h-2.0M209.3 323.8h-3.2M209.3 305.4h-2.0M209.3 286.9h-3.2M209.3 268.5h-2.0M209.3 250h-3.2M209.3 231.5h-2.0" stroke="#222" stroke-width="1.2" fill="none"/>
<text x="329.1" y="441.9" text-anchor="middle" class="at">Test time/s</text>
<text transform="translate(186 323.6) rotate(-90)" text-anchor="middle" class="at">Friction coefficient</text>
<ellipse cx="177.1" cy="234.4" rx="9.6" ry="6.2" fill="#3030f0" stroke="#2222b8" stroke-width="0.6"/>
<text x="177.1" y="238.3" text-anchor="middle" class="bd" font-size="12.5">c</text>
<path d="M390.5 241.4H408.7" stroke="#515151" stroke-width="1.2"/>
<path d="M399.6 240l1.4 1.4l-1.4 1.4l-1.4 -1.4z" fill="#515151"/>
<text x="410.6" y="244.2" class="lg">BO</text>
<path d="M390.5 251.3H408.7" stroke="#F14040" stroke-width="1.2"/>
<path d="M401.2 251.3l-2.8 -1.5v3z" fill="#F14040"/>
<text x="410.6" y="254.1" class="lg">BP</text>
<path d="M390.5 260.8H408.7" stroke="#1A6FDF" stroke-width="1.2"/>
<path d="M399.6 259l1.7 2.9h-3.4z" fill="#1A6FDF"/>
<text x="410.6" y="263.6" class="lg">BPM</text>
<path d="M390.5 270.6H408.7" stroke="#37AD6B" stroke-width="1.2"/>
<path d="M399.6 269.3l1.3 1.3l-1.3 1.3l-1.3 -1.3z" fill="#37AD6B"/>
<text x="410.6" y="273.4" class="lg">BPZ</text>
<path d="M390.5 280.5H408.7" stroke="#B177DE" stroke-width="1.2"/>
<circle cx="399.6" cy="280.5" r="1.4" fill="#B177DE"/>
<text x="410.6" y="283.3" class="lg">BPMZ</text>
<path d="M228.3 304.9 230.5 307.6 234.3 304.9 238.1 306.5 241.4 308.2 244.6 307.1 249 304.4 252.3 306 257.7 309.8 262.1 305.5 266.5 308.7 269.7 307.1 272 303 274.4 300.2 277.1 292.1 279.8 285.4 282.5 279.3 284.5 281.4 285.5 292.1 286.3 304.3 287.5 350 288.6 394 290 385 295.5 345 296.8 325 297.8 313 299.5 310 300.8 309.5 303.7 306.6 306.6 308.1 309.5 307.4 313.2 305.5 316.1 308.8 320.5 305.9 325.5 307.4 328.5 309.5 332.1 305.9 337.2 306.6 341.5 305.9 345.2 308.8 348.8 306.6 351.7 309.5 354.6 305.2 359 303.7 366.1 303.9 370.1 298.5 373.5 287.7 376.2 275.6 377.9 269.5 379.5 272.2 380.9 283.7 381.8 301.2 382.9 337 384.6 370 386.5 345 388.5 318 390.2 310 392.2 308.8 395.1 306.6 397.3 304.1 400.9 302.6 404.5 304.8 407.5 305.9 410.4 308.1 412.5 307.7 416.2 304.5 418.7 307.7" fill="none" stroke="#515151" stroke-width="1.1" stroke-linejoin="round"/><path d="M228.3 303.5l1.4 1.4l-1.4 1.4l-1.4 -1.4z" fill="#515151"/><path d="M239.8 306l1.4 1.4l-1.4 1.4l-1.4 -1.4z" fill="#515151"/><path d="M251.3 304.1l1.4 1.4l-1.4 1.4l-1.4 -1.4z" fill="#515151"/><path d="M262.8 304.6l1.4 1.4l-1.4 1.4l-1.4 -1.4z" fill="#515151"/><path d="M274.3 298.9l1.4 1.4l-1.4 1.4l-1.4 -1.4z" fill="#515151"/><path d="M285.8 295.3l1.4 1.4l-1.4 1.4l-1.4 -1.4z" fill="#515151"/><path d="M297.3 317.6l1.4 1.4l-1.4 1.4l-1.4 -1.4z" fill="#515151"/><path d="M308.8 306.2l1.4 1.4l-1.4 1.4l-1.4 -1.4z" fill="#515151"/><path d="M320.3 304.6l1.4 1.4l-1.4 1.4l-1.4 -1.4z" fill="#515151"/><path d="M331.8 304.8l1.4 1.4l-1.4 1.4l-1.4 -1.4z" fill="#515151"/><path d="M343.3 305.9l1.4 1.4l-1.4 1.4l-1.4 -1.4z" fill="#515151"/><path d="M354.8 303.7l1.4 1.4l-1.4 1.4l-1.4 -1.4z" fill="#515151"/><path d="M366.3 302.2l1.4 1.4l-1.4 1.4l-1.4 -1.4z" fill="#515151"/><path d="M377.8 268.5l1.4 1.4l-1.4 1.4l-1.4 -1.4z" fill="#515151"/><path d="M389.3 312.8l1.4 1.4l-1.4 1.4l-1.4 -1.4z" fill="#515151"/><path d="M400.8 301.2l1.4 1.4l-1.4 1.4l-1.4 -1.4z" fill="#515151"/><path d="M412.3 306.3l1.4 1.4l-1.4 1.4l-1.4 -1.4z" fill="#515151"/>
<path d="M228.3 309.3 232.6 310.9 238.1 308.2 242.5 308.2 246.8 307.6 252.3 306.5 257.7 307.6 263.2 304.9 268.6 308.2 270.8 308.7 271.7 305 274.4 292.1 277.1 271.9 279.1 259.8 280.5 254.7 281.8 262.5 282.8 278.7 283.9 293.5 284.9 305 286 340 287.5 380 288.9 395.2 290.2 393.9 294.2 352 294.9 335 295.6 303.8 297 313 299 310.5 300.8 309.5 309.5 309.5 319.7 308.8 327 311 335.7 311 343 309.5 350.3 311 356.1 309.5 361.9 308.8 365.4 308.6 368.8 306.6 370.8 295.8 372.8 281 374.1 275.6 375.9 272.9 377.2 276.9 378.2 285 379.1 297.1 381.1 337 383.6 380.4 386.3 337 387.5 313.5 388.5 311.5 391.5 309.5 393.6 307.7 397.3 310.3 400.9 309.5 404.5 310.6 408.9 309.5 411.8 311 415.5 309.2 418.7 309.5" fill="none" stroke="#F14040" stroke-width="1.1" stroke-linejoin="round"/><path d="M229.9 309.3l-2.8 -1.5v3z" fill="#F14040"/><path d="M241.4 308.2l-2.8 -1.5v3z" fill="#F14040"/><path d="M252.9 306.7l-2.8 -1.5v3z" fill="#F14040"/><path d="M264.4 305.1l-2.8 -1.5v3z" fill="#F14040"/><path d="M275.9 292.6l-2.8 -1.5v3z" fill="#F14040"/><path d="M287.4 333.6l-2.8 -1.5v3z" fill="#F14040"/><path d="M298.9 312.6l-2.8 -1.5v3z" fill="#F14040"/><path d="M310.4 309.5l-2.8 -1.5v3z" fill="#F14040"/><path d="M321.9 309l-2.8 -1.5v3z" fill="#F14040"/><path d="M333.4 311l-2.8 -1.5v3z" fill="#F14040"/><path d="M344.9 309.6l-2.8 -1.5v3z" fill="#F14040"/><path d="M356.4 309.8l-2.8 -1.5v3z" fill="#F14040"/><path d="M367.9 308.1l-2.8 -1.5v3z" fill="#F14040"/><path d="M379.4 281.8l-2.8 -1.5v3z" fill="#F14040"/><path d="M390.9 311l-2.8 -1.5v3z" fill="#F14040"/><path d="M402.4 309.5l-2.8 -1.5v3z" fill="#F14040"/><path d="M413.9 310.8l-2.8 -1.5v3z" fill="#F14040"/>
<path d="M228.3 310.9 235.9 311.5 246.8 311.5 251.7 310.4 257.7 312 263.2 310.4 268.6 310.4 274.1 308.7 278.5 304.9 281.7 303.3 283.9 305.5 285.5 330 287 370 288.5 394 290 385 296 350 296.9 330 297.6 312 299 310.8 300.8 310.3 309.5 308.1 321.2 309.5 332.8 310.3 344.5 311 356.1 310.3 363.4 308.8 368.1 307.9 372.1 303.9 375.5 302.3 377.5 302.5 378.9 305.2 380.2 312 382.9 354.3 385.3 385.7 386 390 388.1 337 389.2 318 390.5 311 392.2 309.5 395.8 307.7 400.9 306.3 406 307 409.6 307.4 412.5 308.8 415.5 309.9 418.7 310.6" fill="none" stroke="#1A6FDF" stroke-width="1.1" stroke-linejoin="round"/><path d="M228.3 309.1l1.7 2.9h-3.4z" fill="#1A6FDF"/><path d="M239.8 309.7l1.7 2.9h-3.4z" fill="#1A6FDF"/><path d="M251.3 308.7l1.7 2.9h-3.4z" fill="#1A6FDF"/><path d="M262.8 308.7l1.7 2.9h-3.4z" fill="#1A6FDF"/><path d="M274.3 306.7l1.7 2.9h-3.4z" fill="#1A6FDF"/><path d="M285.8 336.2l1.7 2.9h-3.4z" fill="#1A6FDF"/><path d="M297.3 317.9l1.7 2.9h-3.4z" fill="#1A6FDF"/><path d="M308.8 306.5l1.7 2.9h-3.4z" fill="#1A6FDF"/><path d="M320.3 307.6l1.7 2.9h-3.4z" fill="#1A6FDF"/><path d="M331.8 308.4l1.7 2.9h-3.4z" fill="#1A6FDF"/><path d="M343.3 309.1l1.7 2.9h-3.4z" fill="#1A6FDF"/><path d="M354.8 308.6l1.7 2.9h-3.4z" fill="#1A6FDF"/><path d="M366.3 306.4l1.7 2.9h-3.4z" fill="#1A6FDF"/><path d="M377.8 301.3l1.7 2.9h-3.4z" fill="#1A6FDF"/><path d="M389.3 315.7l1.7 2.9h-3.4z" fill="#1A6FDF"/><path d="M400.8 304.5l1.7 2.9h-3.4z" fill="#1A6FDF"/><path d="M412.3 306.9l1.7 2.9h-3.4z" fill="#1A6FDF"/>
<path d="M228.3 315.3 233.7 314.7 240.3 313.1 246.8 316.4 252.3 315.3 257.7 313.6 263.2 312 270.8 312 276.3 310.9 279.5 307.6 282.8 304.4 284.5 308 286 330 287.5 350 289 380 290 396.6 292 383 297.6 338 298.5 320 299.5 311.5 300.8 311 308.1 312.5 319.7 313.9 331.4 313.2 343 313.2 350.3 315.4 357.5 311.7 363.4 309.5 367.7 308.8 373.5 307.9 377.5 306.6 378.8 309.4 379.4 311 382.2 347.4 387 394.3 389.1 337 389.8 316 391 311 392.2 310.3 397.3 308.1 400.9 307.7 404.5 310.3 407.5 313.9 411.8 316.1 415.5 315 418.7 313.9" fill="none" stroke="#37AD6B" stroke-width="1.1" stroke-linejoin="round"/><path d="M228.3 314l1.3 1.3l-1.3 1.3l-1.3 -1.3z" fill="#37AD6B"/><path d="M239.8 311.9l1.3 1.3l-1.3 1.3l-1.3 -1.3z" fill="#37AD6B"/><path d="M251.3 314.2l1.3 1.3l-1.3 1.3l-1.3 -1.3z" fill="#37AD6B"/><path d="M262.8 310.8l1.3 1.3l-1.3 1.3l-1.3 -1.3z" fill="#37AD6B"/><path d="M274.3 310l1.3 1.3l-1.3 1.3l-1.3 -1.3z" fill="#37AD6B"/><path d="M285.8 325.8l1.3 1.3l-1.3 1.3l-1.3 -1.3z" fill="#37AD6B"/><path d="M297.3 339.1l1.3 1.3l-1.3 1.3l-1.3 -1.3z" fill="#37AD6B"/><path d="M308.8 311.3l1.3 1.3l-1.3 1.3l-1.3 -1.3z" fill="#37AD6B"/><path d="M320.3 312.6l1.3 1.3l-1.3 1.3l-1.3 -1.3z" fill="#37AD6B"/><path d="M331.8 311.9l1.3 1.3l-1.3 1.3l-1.3 -1.3z" fill="#37AD6B"/><path d="M343.3 312l1.3 1.3l-1.3 1.3l-1.3 -1.3z" fill="#37AD6B"/><path d="M354.8 311.8l1.3 1.3l-1.3 1.3l-1.3 -1.3z" fill="#37AD6B"/><path d="M366.3 307.7l1.3 1.3l-1.3 1.3l-1.3 -1.3z" fill="#37AD6B"/><path d="M377.8 305.9l1.3 1.3l-1.3 1.3l-1.3 -1.3z" fill="#37AD6B"/><path d="M389.3 329.7l1.3 1.3l-1.3 1.3l-1.3 -1.3z" fill="#37AD6B"/><path d="M400.8 306.4l1.3 1.3l-1.3 1.3l-1.3 -1.3z" fill="#37AD6B"/><path d="M412.3 314.7l1.3 1.3l-1.3 1.3l-1.3 -1.3z" fill="#37AD6B"/>
<path d="M228.3 312 233.7 313.1 240.3 312.5 245.7 314.2 251.2 314.2 257.7 313.1 262.6 313.1 270.8 313.1 274.1 309.8 278.5 304.4 281.7 304.4 283.9 310.9 284.5 340 285.5 360 286.5 380 288.2 395.2 289.5 390 295.5 348 296.5 330 297.2 316 299 312 300.8 311.7 308.8 314.6 319.7 315.4 331.4 315.4 343 313.2 350.3 313.9 356.1 312.5 366.3 313.2 372 311.5 375 309.5 375.9 312.6 378.7 317.8 381.1 347.4 384.3 392.6 386.5 360 389.1 315 392.2 311 397.3 311.4 400.9 311.4 405.3 311.4 408.2 312.5 412.5 312.5 416.2 311.4 418.7 312.1" fill="none" stroke="#B177DE" stroke-width="1.1" stroke-linejoin="round"/><circle cx="228.3" cy="312" r="1.4" fill="#B177DE"/><circle cx="239.8" cy="312.5" r="1.4" fill="#B177DE"/><circle cx="251.3" cy="314.2" r="1.4" fill="#B177DE"/><circle cx="262.8" cy="313.1" r="1.4" fill="#B177DE"/><circle cx="274.3" cy="309.6" r="1.4" fill="#B177DE"/><circle cx="285.8" cy="366" r="1.4" fill="#B177DE"/><circle cx="297.3" cy="315.8" r="1.4" fill="#B177DE"/><circle cx="308.8" cy="314.6" r="1.4" fill="#B177DE"/><circle cx="320.3" cy="315.4" r="1.4" fill="#B177DE"/><circle cx="331.8" cy="315.3" r="1.4" fill="#B177DE"/><circle cx="343.3" cy="313.2" r="1.4" fill="#B177DE"/><circle cx="354.8" cy="312.8" r="1.4" fill="#B177DE"/><circle cx="366.3" cy="313.2" r="1.4" fill="#B177DE"/><circle cx="377.8" cy="316.1" r="1.4" fill="#B177DE"/><circle cx="389.3" cy="314.7" r="1.4" fill="#B177DE"/><circle cx="400.8" cy="311.4" r="1.4" fill="#B177DE"/><circle cx="412.3" cy="312.5" r="1.4" fill="#B177DE"/>
</g>
</svg>
</body></html>
